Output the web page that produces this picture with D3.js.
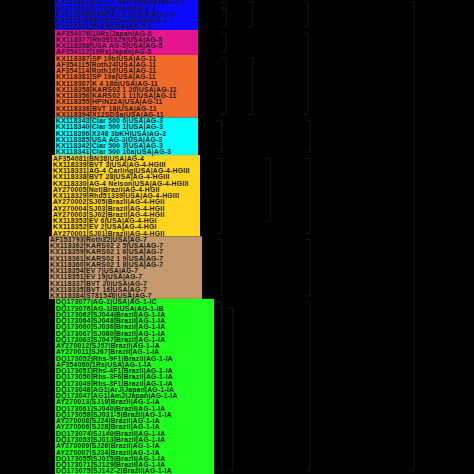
<!DOCTYPE html>
<html>
<head>
<meta charset="utf-8">
<script src="https://cdn.jsdelivr.net/npm/d3@7"></script>
<style>
  html, body { margin: 0; padding: 0; background: #000; }
  svg { display: block; }
</style>
</head>
<body>
<div id="chart"></div>
<script>
// groups: name, colour, first row, number of rows, block left / right
var groupNames = ['AG-2-1', 'AG-5', 'AG-11', 'AG-3', 'AG-4', 'AG-7', 'AG-1'];
var groupColors = ['#0a0aff', '#e5158f', '#f26b2b', '#00ffff', '#ffd41c', '#c49a6c', '#1cff1c'];
var groupRows = [5, 4, 10, 6, 13, 10, 28];
var groupLeft = [55, 55, 55, 55, 52, 49, 55];
var groupRight = [198, 198, 198, 198, 200, 202, 214];

var labels = [
  'KX118332|AG-2-1 Nelson|USA|AG-2-1',
  'AY270014|SJ10|Brazil|AG-2-1',
  'KX118348|KARS02 3 1|USA|AG-2-1',
  'KX118347|Rh051|Canada|AG-2-1',
  'KX118331|Rh09|USA|AG-2-1',
  'AF354076|10Rs|Japan|AG-5',
  'KX118377|Rh091029|USA|AG-5',
  'KX118386|USA AG-5|USA|AG-5',
  'AF354112|19Rs|Japan|AG-5',
  'KX118387|SP 19b|USA|AG-11',
  'AF354115|Roth24|USA|AG-11',
  'AF354114|Roth16|USA|AG-11',
  'KX118381|SP 19a|USA|AG-11',
  'KX118367|K 4 18b|USA|AG-11',
  'KX118358|KARS02 1 20|USA|AG-11',
  'KX118356|KARS02 1 11|USA|AG-11',
  'KX118355|HPIN22A|USA|AG-11',
  'KX118336|BVT 18|USA|AG-11',
  'KX118394|X12SDSa|USA|AG-11',
  'KX118343|Clar 500 6|USA|AG-3',
  'KX118340|Clar 500 1|USA|AG-3',
  'KX118396|X248 3bKH|USA|AG-3',
  'KX118385|USA AG-3|USA|AG-3',
  'KX118342|Clar 500 3|USA|AG-3',
  'KX118341|Clar 500 10a|USA|AG-3',
  'AF354081|BN38|USA|AG-4',
  'KX118339|BVT 3|USA|AG-4-HGIII',
  'KX118331|AG-4 Carling|USA|AG-4-HGIII',
  'KX118338|BVT 28|USA|AG-4-HGIII',
  'KX118330|AG-4 Nelson|USA|AG-4-HGIII',
  'AY270005|Not|Brazil|AG-4-HGII',
  'KX118329|Rhd51339|USA|AG-4-HGIII',
  'AY270002|SJ05|Brazil|AG-4-HGII',
  'AY270004|SJ03|Brazil|AG-4-HGII',
  'AY270003|SJ02|Brazil|AG-4-HGII',
  'KX118353|EV 6|USA|AG-4-HGI',
  'KX118352|EV 2|USA|AG-4-HGI',
  'AY270001|SJ01|Brazil|AG-4-HGII',
  'AF153793|Roth32|USA|AG-7',
  'KX118362|KARS02 2 5|USA|AG-7',
  'KX118359|KARS02 1 6|USA|AG-7',
  'KX118361|KARS02 1 9|USA|AG-7',
  'KX118360|KARS02 1 8|USA|AG-7',
  'KX118354|EV 7|USA|AG-7',
  'KX118351|EV 19|USA|AG-7',
  'KX118337|BVT 20|USA|AG-7',
  'KX118335|BVT 16|USA|AG-7',
  'KX118384|ST81548|USA|AG-7',
  'DQ173077|AG-1|USA|AG-1-IC',
  'DQ173076|AG-1IB|USA|AG-1-IB',
  'DQ173062|SJ044|Brazil|AG-1-IA',
  'DQ173064|SJ048|Brazil|AG-1-IA',
  'DQ173060|SJ036|Brazil|AG-1-IA',
  'DQ173067|SJ080|Brazil|AG-1-IA',
  'DQ173063|SJ047|Brazil|AG-1-IA',
  'AY270012|SJ57|Brazil|AG-1-IA',
  'AY270011|SJ67|Brazil|AG-1-IA',
  'DQ173052|Rhs-9F1|Brazil|AG-1-IA',
  'AF354060|1Rs|USA|AG-1-IA',
  'DQ173051|Rhs-4F1|Brazil|AG-1-IA',
  'DQ173050|Rhs-3F6|Brazil|AG-1-IA',
  'DQ173049|Rhs-3F1|Brazil|AG-1-IA',
  'DQ173048|AG1|ArJ|Japan|AG-1-IA',
  'DQ173047|AG1|AmJ|Japan|AG-1-IA',
  'AY270013|SJ19|Brazil|AG-1-IA',
  'DQ173061|SJ040|Brazil|AG-1-IA',
  'DQ173058|SJ031-5|Brazil|AG-1-IA',
  'AY270008|SJ24|Brazil|AG-1-IA',
  'AY270006|SJ28|Brazil|AG-1-IA',
  'DQ173074|SJ140|Brazil|AG-1-IA',
  'DQ173053|SJ013|Brazil|AG-1-IA',
  'AY270009|SJ26|Brazil|AG-1-IA',
  'AY270007|SJ34|Brazil|AG-1-IA',
  'DQ173055|SJ015|Brazil|AG-1-IA',
  'DQ173071|SJ129|Brazil|AG-1-IA',
  'DQ173075|SJ142-2|Brazil|AG-1-IA'
];

// clade brackets: first row, last row, depth
var cladeFrom = [0, 1, 5, 9, 0, 9, 0, 5, 19, 25, 38, 48, 48, 49, 25, 19, 25, 38, 48, 0];
var cladeTo   = [1, 4, 8, 18, 4, 18, 4, 18, 24, 37, 47, 49, 75, 75, 35, 24, 37, 47, 75, 75];
var cladeDepth = [0.10, 0.10, 0.10, 0.10, 0.22, 0.22, 0.47, 0.47, 0.08, 0.08, 0.08, 0.08, 0.08, 0.13, 0.30, 0.48, 0.48, 0.48, 0.48, 0.95];

var width = 474, height = 474;
var svg = d3.select('#chart').append('svg')
  .attr('width', width)
  .attr('height', height);

var y = d3.scaleLinear().domain([5, 76]).range([30, 474]);
var x = d3.scaleLinear().domain([0, 1]).range([204, 425]);

var starts = [];
groupRows.reduce(function (acc, n) { starts.push(acc); return acc + n; }, 0);

svg.selectAll('rect.group')
  .data(groupNames)
  .enter().append('rect')
  .attr('class', 'group')
  .attr('x', function (d, i) { return groupLeft[i]; })
  .attr('y', function (d, i) { return y(starts[i]); })
  .attr('width', function (d, i) { return groupRight[i] - groupLeft[i]; })
  .attr('height', function (d, i) { return y(starts[i] + groupRows[i]) - y(starts[i]); })
  .style('fill', function (d, i) { return groupColors[i]; });

var groupOf = function (r) {
  for (var g = starts.length - 1; g >= 0; g--) { if (r >= starts[g]) return g; }
  return 0;
};

svg.selectAll('text.leaf')
  .data(labels)
  .enter().append('text')
  .attr('class', 'leaf')
  .attr('x', function (d, i) { return groupLeft[groupOf(i)] + 1; })
  .attr('y', function (d, i) { return y(i + 0.5) + 2.4; })
  .style('font-family', 'Liberation Sans, Arial, sans-serif')
  .style('font-weight', 'bold')
  .style('font-size', '6.8px')
  .style('letter-spacing', '0.25px')
  .style('fill', '#1a1a1a')
  .text(function (d) { return d; });

// tree brackets
var tree = svg.append('g')
  .style('stroke', '#1c1c1c')
  .style('stroke-width', 0.8)
  .style('fill', 'none');

cladeFrom.forEach(function (a, i) {
  var b = cladeTo[i];
  var cx = x(cladeDepth[i]);
  var y1 = y(a + 0.5), y2 = y(b + 0.5);
  tree.append('path')
    .attr('d', 'M' + (cx - 5) + ',' + y1 + 'H' + cx + 'V' + y2 + 'H' + (cx - 5));
});
</script>
</body>
</html>
